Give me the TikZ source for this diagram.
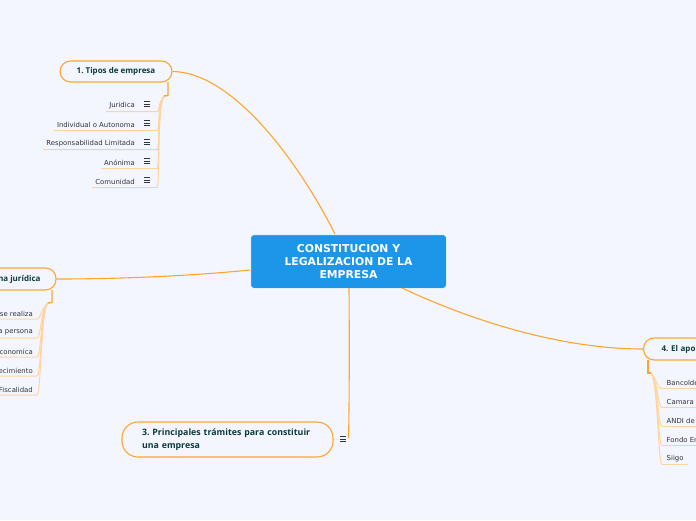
\documentclass[tikz,border=0pt]{standalone}
\usepackage{fontspec}
\setmainfont{DejaVu Sans}
\newfontfamily\topicfont{Open Sans}
\frenchspacing
\definecolor{bgc}{HTML}{F4F6FF}
\definecolor{orng}{HTML}{FFA52B}
\definecolor{lorng}{HTML}{FFD49E}
\definecolor{topict}{HTML}{0C3B3B}
\definecolor{leaft}{HTML}{33343C}
\definecolor{blu}{HTML}{1B96E9}
\tikzset{
 conn/.style={draw=orng,line width=1.1pt},
 stub/.style={draw=orng,line width=1.4pt},
 leafline/.style={draw=lorng,line width=1pt},
 central/.style={fill=blu,draw=white,line width=0.5pt,rounded corners=3pt,text=white,font=\fontsize{10.8}{12.6}\selectfont\bfseries,align=center,inner sep=0pt,minimum width=195.5pt,minimum height=53.5pt},
 topic/.style={fill=bgc,draw=orng,line width=1.1pt,rounded corners=10.5pt,text=topict,font=\topicfont\bfseries\fontsize{8}{12}\selectfont,inner sep=0pt},
 leaf/.style={text=leaft,font=\fontsize{6.9}{8}\selectfont,inner xsep=3pt,inner ysep=2.5pt,anchor=south east},
 leafr/.style={text=leaft,font=\fontsize{6.9}{8}\selectfont,inner xsep=0pt,inner ysep=2.5pt,anchor=south west},
 menuicon/.style={draw=leaft,line width=0.7pt}
}
\newcommand{\mico}[2]{\draw[menuicon] (#1-3,#2-2.6) -- ++(6,0) (#1-3,#2) -- ++(6,0) (#1-3,#2+2.6) -- ++(6,0);}
\newcommand{\gapr}{\hspace*{19pt}\null}
\begin{document}
\begin{tikzpicture}[x=1pt,y=-1pt]
\useasboundingbox (0,0) rectangle (696,520);
\clip (0,0) rectangle (696,520);
\fill[bgc] (0,0) rectangle (696,520);

% main connectors (drawn first, the central box covers their ends)
\coordinate (c1) at (335,234);
\coordinate (c2) at (250,270);
\coordinate (c3) at (349,288);
\coordinate (c3e) at (348.6,438);
\coordinate (c4) at (402,288);

\node[central] (c) at (348.5,261.5) {CONSTITUCION Y\\LEGALIZACION DE LA\\EMPRESA};

\node[topic,minimum width=112pt,minimum height=21pt] (t1) at (116,71.5) {1. Tipos de empresa};
\node[topic,minimum width=120pt,minimum height=22pt] (t2) at (-4,279) {\hspace*{44pt}ma jurídica};
\node[topic,minimum width=211pt,minimum height=35pt,rounded corners=16pt,align=left,text width=171pt,font=\topicfont\bfseries\fontsize{8.8}{13}\selectfont] (t3) at (227.5,439.5) {3. Principales trámites para constituir\\una empresa};
\node[topic,minimum width=120pt,minimum height=22pt,anchor=west,align=left,text width=84pt] (t4) at (643,349) {4. El apo};

\draw[conn] (c1) .. controls (295,155) and (230,72) .. (t1.east);
\draw[conn] (c2) .. controls (190,276) and (120,279) .. (t2.east);
\draw[conn] (c3) .. controls (349.4,340) and (349.4,390) .. (c3e);
\draw[conn] (c4) .. controls (470,320) and (560,349) .. (t4.west);
\mico{343}{439}
\draw[lorng,line width=0.6pt] (t3.east) -- (339,439);

% branch 1
\coordinate (j1) at (164,96);
\node[leaf] (a1) at (157,111.5) {Juridica\gapr};
\node[leaf] (a2) at (157,130.5) {Individual o Autonoma\gapr};
\node[leaf] (a3) at (157,149.5) {Responsabilidad Limitada\gapr};
\node[leaf] (a4) at (157,168.5) {Anónima\gapr};
\node[leaf] (a5) at (157,187.5) {Comunidad\gapr};
\foreach \n/\y in {a1/104,a2/123,a3/142,a4/161,a5/180}{
 \draw[leafline] (\n.south west) -- (\n.south east) .. controls ([xshift=3pt]\n.south east) and (157,105) .. (j1);
 \mico{147}{\y}
}
\draw[stub] (168,82) -- (168,95.5) -- (j1);

% branch 2
\coordinate (j2) at (48,303);
\node[leaf,inner xsep=0pt] (b1) at (33,319) {se realiza};
\node[leaf,inner xsep=0pt] (b2) at (33,338) {a persona};
\node[leaf,inner xsep=0pt] (b3) at (33,357) {conomica};
\node[leaf,inner xsep=0pt] (b4) at (33,376) {ecimiento};
\node[leaf,inner xsep=0pt] (b5) at (33,395) {Fiscalidad};
\foreach \n in {b1,b2,b3,b4,b5}{
 \draw[leafline] (0,0 |- \n.south) -- (\n.south east) -- ++(4,0) .. controls ++(4,0) and (41,308) .. (j2);
}
\draw[stub] (52,290) -- (52,302.5) -- (j2);

% branch 4
\coordinate (j4) at (651,373);
\node[leafr] (d1) at (662,388.5) {\hspace*{4.5pt}Bancolde};
\node[leafr] (d2) at (662,407.5) {\hspace*{4.5pt}Camara};
\node[leafr] (d3) at (662,426.5) {\hspace*{4.5pt}ANDI de};
\node[leafr] (d4) at (662,445.5) {\hspace*{4.5pt}Fondo En};
\node[leafr] (d5) at (662,464.5) {\hspace*{4.5pt}Siigo};
\draw[leafline] (d1.south west) -- (696,388.5);
\draw[leafline] (d2.south west) -- (696,407.5);
\draw[leafline] (d3.south west) -- (696,426.5);
\draw[leafline] (d4.south west) -- (696,445.5);
\draw[leafline] (d5.south west) -- (688,464.5);
\foreach \n in {d1,d2,d3,d4,d5}{
 \draw[leafline] (\n.south west) .. controls ++(-4,0) and (658,382) .. (j4);
}
\draw[stub] (648,360) -- (648,373) -- (j4);
\end{tikzpicture}
\end{document}
